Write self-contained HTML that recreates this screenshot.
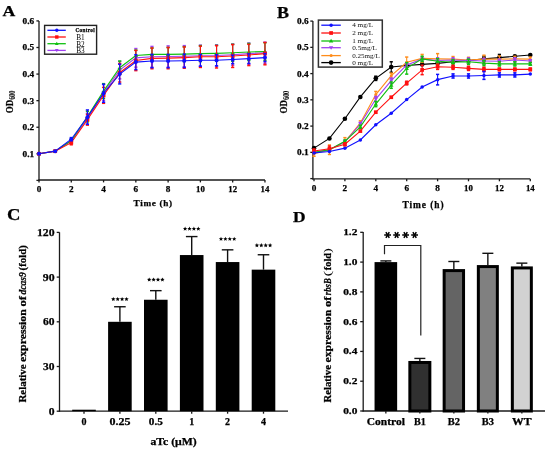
<!DOCTYPE html>
<html><head><meta charset="utf-8"><style>
html,body{margin:0;padding:0;background:#fff;}
svg{display:block;filter:blur(0.3px);}
text{font-family:"Liberation Serif", serif;stroke:#000;stroke-width:0.25px;}
text[font-weight="normal"]{stroke:none;}
</style></head><body>
<svg width="550" height="450" viewBox="0 0 550 450">
<rect width="550" height="450" fill="#fff"/>
<text x="2.60" y="15.60" font-size="15.5" font-weight="bold" font-style="normal" text-anchor="start" fill="#000" textLength="12.80" lengthAdjust="spacingAndGlyphs" >A</text>
<text x="277.00" y="17.80" font-size="15.8" font-weight="bold" font-style="normal" text-anchor="start" fill="#000" textLength="12.00" lengthAdjust="spacingAndGlyphs" >B</text>
<text x="7.00" y="219.60" font-size="16.5" font-weight="bold" font-style="normal" text-anchor="start" fill="#000" textLength="13.40" lengthAdjust="spacingAndGlyphs" >C</text>
<text x="293.00" y="222.00" font-size="14.6" font-weight="bold" font-style="normal" text-anchor="start" fill="#000" textLength="12.60" lengthAdjust="spacingAndGlyphs" >D</text>
<line x1="39.00" y1="20.92" x2="39.00" y2="180.60" stroke="#1a1a1a" stroke-width="1.3" />
<line x1="38.40" y1="180.00" x2="264.96" y2="180.00" stroke="#1a1a1a" stroke-width="1.3" />
<line x1="36.40" y1="180.40" x2="39.00" y2="180.40" stroke="#1a1a1a" stroke-width="1.3" />
<line x1="36.40" y1="153.82" x2="39.00" y2="153.82" stroke="#1a1a1a" stroke-width="1.3" />
<text x="34.20" y="156.72" font-size="8.5" font-weight="bold" font-style="normal" text-anchor="end" fill="#000" textLength="11.60" lengthAdjust="spacingAndGlyphs" >0.1</text>
<line x1="36.40" y1="127.24" x2="39.00" y2="127.24" stroke="#1a1a1a" stroke-width="1.3" />
<text x="34.20" y="130.14" font-size="8.5" font-weight="bold" font-style="normal" text-anchor="end" fill="#000" textLength="11.60" lengthAdjust="spacingAndGlyphs" >0.2</text>
<line x1="36.40" y1="100.66" x2="39.00" y2="100.66" stroke="#1a1a1a" stroke-width="1.3" />
<text x="34.20" y="103.56" font-size="8.5" font-weight="bold" font-style="normal" text-anchor="end" fill="#000" textLength="11.60" lengthAdjust="spacingAndGlyphs" >0.3</text>
<line x1="36.40" y1="74.08" x2="39.00" y2="74.08" stroke="#1a1a1a" stroke-width="1.3" />
<text x="34.20" y="76.98" font-size="8.5" font-weight="bold" font-style="normal" text-anchor="end" fill="#000" textLength="11.60" lengthAdjust="spacingAndGlyphs" >0.4</text>
<line x1="36.40" y1="47.50" x2="39.00" y2="47.50" stroke="#1a1a1a" stroke-width="1.3" />
<text x="34.20" y="50.40" font-size="8.5" font-weight="bold" font-style="normal" text-anchor="end" fill="#000" textLength="11.60" lengthAdjust="spacingAndGlyphs" >0.5</text>
<line x1="36.40" y1="20.92" x2="39.00" y2="20.92" stroke="#1a1a1a" stroke-width="1.3" />
<text x="34.20" y="23.82" font-size="8.5" font-weight="bold" font-style="normal" text-anchor="end" fill="#000" textLength="11.60" lengthAdjust="spacingAndGlyphs" >0.6</text>
<line x1="39.00" y1="180.00" x2="39.00" y2="182.40" stroke="#1a1a1a" stroke-width="1.3" />
<text x="39.00" y="191.80" font-size="8.5" font-weight="bold" font-style="normal" text-anchor="middle" fill="#000" textLength="4.60" lengthAdjust="spacingAndGlyphs" >0</text>
<line x1="71.28" y1="180.00" x2="71.28" y2="182.40" stroke="#1a1a1a" stroke-width="1.3" />
<text x="71.28" y="191.80" font-size="8.5" font-weight="bold" font-style="normal" text-anchor="middle" fill="#000" textLength="4.60" lengthAdjust="spacingAndGlyphs" >2</text>
<line x1="103.56" y1="180.00" x2="103.56" y2="182.40" stroke="#1a1a1a" stroke-width="1.3" />
<text x="103.56" y="191.80" font-size="8.5" font-weight="bold" font-style="normal" text-anchor="middle" fill="#000" textLength="4.60" lengthAdjust="spacingAndGlyphs" >4</text>
<line x1="135.84" y1="180.00" x2="135.84" y2="182.40" stroke="#1a1a1a" stroke-width="1.3" />
<text x="135.84" y="191.80" font-size="8.5" font-weight="bold" font-style="normal" text-anchor="middle" fill="#000" textLength="4.60" lengthAdjust="spacingAndGlyphs" >6</text>
<line x1="168.12" y1="180.00" x2="168.12" y2="182.40" stroke="#1a1a1a" stroke-width="1.3" />
<text x="168.12" y="191.80" font-size="8.5" font-weight="bold" font-style="normal" text-anchor="middle" fill="#000" textLength="4.60" lengthAdjust="spacingAndGlyphs" >8</text>
<line x1="200.40" y1="180.00" x2="200.40" y2="182.40" stroke="#1a1a1a" stroke-width="1.3" />
<text x="200.40" y="191.80" font-size="8.5" font-weight="bold" font-style="normal" text-anchor="middle" fill="#000" textLength="8.80" lengthAdjust="spacingAndGlyphs" >10</text>
<line x1="232.68" y1="180.00" x2="232.68" y2="182.40" stroke="#1a1a1a" stroke-width="1.3" />
<text x="232.68" y="191.80" font-size="8.5" font-weight="bold" font-style="normal" text-anchor="middle" fill="#000" textLength="8.80" lengthAdjust="spacingAndGlyphs" >12</text>
<line x1="264.96" y1="180.00" x2="264.96" y2="182.40" stroke="#1a1a1a" stroke-width="1.3" />
<text x="264.96" y="191.80" font-size="8.5" font-weight="bold" font-style="normal" text-anchor="middle" fill="#000" textLength="8.80" lengthAdjust="spacingAndGlyphs" >14</text>
<polyline points="39.00,153.82 55.14,151.16 71.28,141.06 87.42,118.73 103.56,92.69 119.70,70.09 135.84,57.87 151.98,56.80 168.12,56.54 184.26,56.27 200.40,55.74 216.54,55.47 232.68,54.68 248.82,53.61 264.96,52.82" fill="none" stroke="#a040f0" stroke-width="1.1"/>
<line x1="71.28" y1="139.73" x2="71.28" y2="142.39" stroke="#a040f0" stroke-width="1.1" />
<line x1="69.68" y1="139.73" x2="72.88" y2="139.73" stroke="#a040f0" stroke-width="1.5" />
<line x1="69.68" y1="142.39" x2="72.88" y2="142.39" stroke="#a040f0" stroke-width="1.5" />
<line x1="87.42" y1="113.42" x2="87.42" y2="124.05" stroke="#a040f0" stroke-width="1.1" />
<line x1="85.82" y1="113.42" x2="89.02" y2="113.42" stroke="#a040f0" stroke-width="1.5" />
<line x1="85.82" y1="124.05" x2="89.02" y2="124.05" stroke="#a040f0" stroke-width="1.5" />
<line x1="103.56" y1="84.71" x2="103.56" y2="100.66" stroke="#a040f0" stroke-width="1.1" />
<line x1="101.96" y1="84.71" x2="105.16" y2="84.71" stroke="#a040f0" stroke-width="1.5" />
<line x1="101.96" y1="100.66" x2="105.16" y2="100.66" stroke="#a040f0" stroke-width="1.5" />
<line x1="119.70" y1="61.32" x2="119.70" y2="78.86" stroke="#a040f0" stroke-width="1.1" />
<line x1="118.10" y1="61.32" x2="121.30" y2="61.32" stroke="#a040f0" stroke-width="1.5" />
<line x1="118.10" y1="78.86" x2="121.30" y2="78.86" stroke="#a040f0" stroke-width="1.5" />
<line x1="135.84" y1="48.56" x2="135.84" y2="67.17" stroke="#a040f0" stroke-width="1.1" />
<line x1="134.24" y1="48.56" x2="137.44" y2="48.56" stroke="#a040f0" stroke-width="1.5" />
<line x1="134.24" y1="67.17" x2="137.44" y2="67.17" stroke="#a040f0" stroke-width="1.5" />
<line x1="151.98" y1="46.44" x2="151.98" y2="67.17" stroke="#a040f0" stroke-width="1.1" />
<line x1="150.38" y1="46.44" x2="153.58" y2="46.44" stroke="#a040f0" stroke-width="1.5" />
<line x1="150.38" y1="67.17" x2="153.58" y2="67.17" stroke="#a040f0" stroke-width="1.5" />
<line x1="168.12" y1="45.91" x2="168.12" y2="67.17" stroke="#a040f0" stroke-width="1.1" />
<line x1="166.52" y1="45.91" x2="169.72" y2="45.91" stroke="#a040f0" stroke-width="1.5" />
<line x1="166.52" y1="67.17" x2="169.72" y2="67.17" stroke="#a040f0" stroke-width="1.5" />
<line x1="184.26" y1="45.64" x2="184.26" y2="66.90" stroke="#a040f0" stroke-width="1.1" />
<line x1="182.66" y1="45.64" x2="185.86" y2="45.64" stroke="#a040f0" stroke-width="1.5" />
<line x1="182.66" y1="66.90" x2="185.86" y2="66.90" stroke="#a040f0" stroke-width="1.5" />
<line x1="200.40" y1="45.11" x2="200.40" y2="66.37" stroke="#a040f0" stroke-width="1.1" />
<line x1="198.80" y1="45.11" x2="202.00" y2="45.11" stroke="#a040f0" stroke-width="1.5" />
<line x1="198.80" y1="66.37" x2="202.00" y2="66.37" stroke="#a040f0" stroke-width="1.5" />
<line x1="216.54" y1="44.84" x2="216.54" y2="66.11" stroke="#a040f0" stroke-width="1.1" />
<line x1="214.94" y1="44.84" x2="218.14" y2="44.84" stroke="#a040f0" stroke-width="1.5" />
<line x1="214.94" y1="66.11" x2="218.14" y2="66.11" stroke="#a040f0" stroke-width="1.5" />
<line x1="232.68" y1="44.04" x2="232.68" y2="65.31" stroke="#a040f0" stroke-width="1.1" />
<line x1="231.08" y1="44.04" x2="234.28" y2="44.04" stroke="#a040f0" stroke-width="1.5" />
<line x1="231.08" y1="65.31" x2="234.28" y2="65.31" stroke="#a040f0" stroke-width="1.5" />
<line x1="248.82" y1="42.98" x2="248.82" y2="64.25" stroke="#a040f0" stroke-width="1.1" />
<line x1="247.22" y1="42.98" x2="250.42" y2="42.98" stroke="#a040f0" stroke-width="1.5" />
<line x1="247.22" y1="64.25" x2="250.42" y2="64.25" stroke="#a040f0" stroke-width="1.5" />
<line x1="264.96" y1="42.18" x2="264.96" y2="63.45" stroke="#a040f0" stroke-width="1.1" />
<line x1="263.36" y1="42.18" x2="266.56" y2="42.18" stroke="#a040f0" stroke-width="1.5" />
<line x1="263.36" y1="63.45" x2="266.56" y2="63.45" stroke="#a040f0" stroke-width="1.5" />
<polygon points="39.00,155.91 41.09,152.30 36.91,152.30" fill="#a040f0"/>
<polygon points="55.14,153.25 57.23,149.64 53.05,149.64" fill="#a040f0"/>
<polygon points="71.28,143.15 73.37,139.54 69.19,139.54" fill="#a040f0"/>
<polygon points="87.42,120.82 89.51,117.21 85.33,117.21" fill="#a040f0"/>
<polygon points="103.56,94.78 105.65,91.17 101.47,91.17" fill="#a040f0"/>
<polygon points="119.70,72.18 121.79,68.57 117.61,68.57" fill="#a040f0"/>
<polygon points="135.84,59.96 137.93,56.35 133.75,56.35" fill="#a040f0"/>
<polygon points="151.98,58.89 154.07,55.28 149.89,55.28" fill="#a040f0"/>
<polygon points="168.12,58.63 170.21,55.02 166.03,55.02" fill="#a040f0"/>
<polygon points="184.26,58.36 186.35,54.75 182.17,54.75" fill="#a040f0"/>
<polygon points="200.40,57.83 202.49,54.22 198.31,54.22" fill="#a040f0"/>
<polygon points="216.54,57.56 218.63,53.95 214.45,53.95" fill="#a040f0"/>
<polygon points="232.68,56.77 234.77,53.16 230.59,53.16" fill="#a040f0"/>
<polygon points="248.82,55.70 250.91,52.09 246.73,52.09" fill="#a040f0"/>
<polygon points="264.96,54.91 267.05,51.30 262.87,51.30" fill="#a040f0"/>
<polyline points="39.00,153.82 55.14,151.16 71.28,140.53 87.42,116.61 103.56,91.09 119.70,67.70 135.84,55.47 151.98,54.41 168.12,54.41 184.26,54.15 200.40,53.61 216.54,53.35 232.68,52.82 248.82,52.02 264.96,51.49" fill="none" stroke="#10c010" stroke-width="1.1"/>
<line x1="71.28" y1="139.20" x2="71.28" y2="141.86" stroke="#10c010" stroke-width="1.1" />
<line x1="69.68" y1="139.20" x2="72.88" y2="139.20" stroke="#10c010" stroke-width="1.5" />
<line x1="69.68" y1="141.86" x2="72.88" y2="141.86" stroke="#10c010" stroke-width="1.5" />
<line x1="87.42" y1="111.29" x2="87.42" y2="121.92" stroke="#10c010" stroke-width="1.1" />
<line x1="85.82" y1="111.29" x2="89.02" y2="111.29" stroke="#10c010" stroke-width="1.5" />
<line x1="85.82" y1="121.92" x2="89.02" y2="121.92" stroke="#10c010" stroke-width="1.5" />
<line x1="103.56" y1="83.65" x2="103.56" y2="98.53" stroke="#10c010" stroke-width="1.1" />
<line x1="101.96" y1="83.65" x2="105.16" y2="83.65" stroke="#10c010" stroke-width="1.5" />
<line x1="101.96" y1="98.53" x2="105.16" y2="98.53" stroke="#10c010" stroke-width="1.5" />
<line x1="119.70" y1="61.06" x2="119.70" y2="74.35" stroke="#10c010" stroke-width="1.1" />
<line x1="118.10" y1="61.06" x2="121.30" y2="61.06" stroke="#10c010" stroke-width="1.5" />
<line x1="118.10" y1="74.35" x2="121.30" y2="74.35" stroke="#10c010" stroke-width="1.5" />
<line x1="135.84" y1="50.16" x2="135.84" y2="60.79" stroke="#10c010" stroke-width="1.1" />
<line x1="134.24" y1="50.16" x2="137.44" y2="50.16" stroke="#10c010" stroke-width="1.5" />
<line x1="134.24" y1="60.79" x2="137.44" y2="60.79" stroke="#10c010" stroke-width="1.5" />
<line x1="151.98" y1="48.03" x2="151.98" y2="60.79" stroke="#10c010" stroke-width="1.1" />
<line x1="150.38" y1="48.03" x2="153.58" y2="48.03" stroke="#10c010" stroke-width="1.5" />
<line x1="150.38" y1="60.79" x2="153.58" y2="60.79" stroke="#10c010" stroke-width="1.5" />
<line x1="168.12" y1="47.50" x2="168.12" y2="61.32" stroke="#10c010" stroke-width="1.1" />
<line x1="166.52" y1="47.50" x2="169.72" y2="47.50" stroke="#10c010" stroke-width="1.5" />
<line x1="166.52" y1="61.32" x2="169.72" y2="61.32" stroke="#10c010" stroke-width="1.5" />
<line x1="184.26" y1="46.70" x2="184.26" y2="61.59" stroke="#10c010" stroke-width="1.1" />
<line x1="182.66" y1="46.70" x2="185.86" y2="46.70" stroke="#10c010" stroke-width="1.5" />
<line x1="182.66" y1="61.59" x2="185.86" y2="61.59" stroke="#10c010" stroke-width="1.5" />
<line x1="200.40" y1="45.64" x2="200.40" y2="61.59" stroke="#10c010" stroke-width="1.1" />
<line x1="198.80" y1="45.64" x2="202.00" y2="45.64" stroke="#10c010" stroke-width="1.5" />
<line x1="198.80" y1="61.59" x2="202.00" y2="61.59" stroke="#10c010" stroke-width="1.5" />
<line x1="216.54" y1="45.37" x2="216.54" y2="61.32" stroke="#10c010" stroke-width="1.1" />
<line x1="214.94" y1="45.37" x2="218.14" y2="45.37" stroke="#10c010" stroke-width="1.5" />
<line x1="214.94" y1="61.32" x2="218.14" y2="61.32" stroke="#10c010" stroke-width="1.5" />
<line x1="232.68" y1="44.31" x2="232.68" y2="61.32" stroke="#10c010" stroke-width="1.1" />
<line x1="231.08" y1="44.31" x2="234.28" y2="44.31" stroke="#10c010" stroke-width="1.5" />
<line x1="231.08" y1="61.32" x2="234.28" y2="61.32" stroke="#10c010" stroke-width="1.5" />
<line x1="248.82" y1="43.51" x2="248.82" y2="60.52" stroke="#10c010" stroke-width="1.1" />
<line x1="247.22" y1="43.51" x2="250.42" y2="43.51" stroke="#10c010" stroke-width="1.5" />
<line x1="247.22" y1="60.52" x2="250.42" y2="60.52" stroke="#10c010" stroke-width="1.5" />
<line x1="264.96" y1="42.72" x2="264.96" y2="60.26" stroke="#10c010" stroke-width="1.1" />
<line x1="263.36" y1="42.72" x2="266.56" y2="42.72" stroke="#10c010" stroke-width="1.5" />
<line x1="263.36" y1="60.26" x2="266.56" y2="60.26" stroke="#10c010" stroke-width="1.5" />
<polygon points="39.00,151.73 41.09,155.34 36.91,155.34" fill="#10c010"/>
<polygon points="55.14,149.07 57.23,152.68 53.05,152.68" fill="#10c010"/>
<polygon points="71.28,138.44 73.37,142.05 69.19,142.05" fill="#10c010"/>
<polygon points="87.42,114.52 89.51,118.13 85.33,118.13" fill="#10c010"/>
<polygon points="103.56,89.00 105.65,92.61 101.47,92.61" fill="#10c010"/>
<polygon points="119.70,65.61 121.79,69.22 117.61,69.22" fill="#10c010"/>
<polygon points="135.84,53.38 137.93,56.99 133.75,56.99" fill="#10c010"/>
<polygon points="151.98,52.32 154.07,55.93 149.89,55.93" fill="#10c010"/>
<polygon points="168.12,52.32 170.21,55.93 166.03,55.93" fill="#10c010"/>
<polygon points="184.26,52.06 186.35,55.67 182.17,55.67" fill="#10c010"/>
<polygon points="200.40,51.52 202.49,55.13 198.31,55.13" fill="#10c010"/>
<polygon points="216.54,51.26 218.63,54.87 214.45,54.87" fill="#10c010"/>
<polygon points="232.68,50.73 234.77,54.34 230.59,54.34" fill="#10c010"/>
<polygon points="248.82,49.93 250.91,53.54 246.73,53.54" fill="#10c010"/>
<polygon points="264.96,49.40 267.05,53.01 262.87,53.01" fill="#10c010"/>
<polyline points="39.00,153.82 55.14,151.16 71.28,142.66 87.42,119.80 103.56,95.34 119.70,72.75 135.84,60.52 151.98,58.40 168.12,58.13 184.26,57.60 200.40,56.80 216.54,56.80 232.68,56.01 248.82,54.94 264.96,53.61" fill="none" stroke="#ff1010" stroke-width="1.1"/>
<line x1="71.28" y1="140.53" x2="71.28" y2="144.78" stroke="#ff1010" stroke-width="1.1" />
<line x1="69.68" y1="140.53" x2="72.88" y2="140.53" stroke="#ff1010" stroke-width="1.5" />
<line x1="69.68" y1="144.78" x2="72.88" y2="144.78" stroke="#ff1010" stroke-width="1.5" />
<line x1="87.42" y1="114.48" x2="87.42" y2="125.11" stroke="#ff1010" stroke-width="1.1" />
<line x1="85.82" y1="114.48" x2="89.02" y2="114.48" stroke="#ff1010" stroke-width="1.5" />
<line x1="85.82" y1="125.11" x2="89.02" y2="125.11" stroke="#ff1010" stroke-width="1.5" />
<line x1="103.56" y1="87.37" x2="103.56" y2="103.32" stroke="#ff1010" stroke-width="1.1" />
<line x1="101.96" y1="87.37" x2="105.16" y2="87.37" stroke="#ff1010" stroke-width="1.5" />
<line x1="101.96" y1="103.32" x2="105.16" y2="103.32" stroke="#ff1010" stroke-width="1.5" />
<line x1="119.70" y1="63.45" x2="119.70" y2="82.05" stroke="#ff1010" stroke-width="1.1" />
<line x1="118.10" y1="63.45" x2="121.30" y2="63.45" stroke="#ff1010" stroke-width="1.5" />
<line x1="118.10" y1="82.05" x2="121.30" y2="82.05" stroke="#ff1010" stroke-width="1.5" />
<line x1="135.84" y1="50.42" x2="135.84" y2="70.62" stroke="#ff1010" stroke-width="1.1" />
<line x1="134.24" y1="50.42" x2="137.44" y2="50.42" stroke="#ff1010" stroke-width="1.5" />
<line x1="134.24" y1="70.62" x2="137.44" y2="70.62" stroke="#ff1010" stroke-width="1.5" />
<line x1="151.98" y1="48.03" x2="151.98" y2="68.76" stroke="#ff1010" stroke-width="1.1" />
<line x1="150.38" y1="48.03" x2="153.58" y2="48.03" stroke="#ff1010" stroke-width="1.5" />
<line x1="150.38" y1="68.76" x2="153.58" y2="68.76" stroke="#ff1010" stroke-width="1.5" />
<line x1="168.12" y1="47.50" x2="168.12" y2="68.76" stroke="#ff1010" stroke-width="1.1" />
<line x1="166.52" y1="47.50" x2="169.72" y2="47.50" stroke="#ff1010" stroke-width="1.5" />
<line x1="166.52" y1="68.76" x2="169.72" y2="68.76" stroke="#ff1010" stroke-width="1.5" />
<line x1="184.26" y1="46.97" x2="184.26" y2="68.23" stroke="#ff1010" stroke-width="1.1" />
<line x1="182.66" y1="46.97" x2="185.86" y2="46.97" stroke="#ff1010" stroke-width="1.5" />
<line x1="182.66" y1="68.23" x2="185.86" y2="68.23" stroke="#ff1010" stroke-width="1.5" />
<line x1="200.40" y1="46.17" x2="200.40" y2="67.43" stroke="#ff1010" stroke-width="1.1" />
<line x1="198.80" y1="46.17" x2="202.00" y2="46.17" stroke="#ff1010" stroke-width="1.5" />
<line x1="198.80" y1="67.43" x2="202.00" y2="67.43" stroke="#ff1010" stroke-width="1.5" />
<line x1="216.54" y1="45.64" x2="216.54" y2="67.97" stroke="#ff1010" stroke-width="1.1" />
<line x1="214.94" y1="45.64" x2="218.14" y2="45.64" stroke="#ff1010" stroke-width="1.5" />
<line x1="214.94" y1="67.97" x2="218.14" y2="67.97" stroke="#ff1010" stroke-width="1.5" />
<line x1="232.68" y1="44.58" x2="232.68" y2="67.43" stroke="#ff1010" stroke-width="1.1" />
<line x1="231.08" y1="44.58" x2="234.28" y2="44.58" stroke="#ff1010" stroke-width="1.5" />
<line x1="231.08" y1="67.43" x2="234.28" y2="67.43" stroke="#ff1010" stroke-width="1.5" />
<line x1="248.82" y1="44.31" x2="248.82" y2="65.57" stroke="#ff1010" stroke-width="1.1" />
<line x1="247.22" y1="44.31" x2="250.42" y2="44.31" stroke="#ff1010" stroke-width="1.5" />
<line x1="247.22" y1="65.57" x2="250.42" y2="65.57" stroke="#ff1010" stroke-width="1.5" />
<line x1="264.96" y1="42.45" x2="264.96" y2="64.78" stroke="#ff1010" stroke-width="1.1" />
<line x1="263.36" y1="42.45" x2="266.56" y2="42.45" stroke="#ff1010" stroke-width="1.5" />
<line x1="263.36" y1="64.78" x2="266.56" y2="64.78" stroke="#ff1010" stroke-width="1.5" />
<rect x="37.10" y="151.92" width="3.80" height="3.80" fill="#ff1010"/>
<rect x="53.24" y="149.26" width="3.80" height="3.80" fill="#ff1010"/>
<rect x="69.38" y="140.76" width="3.80" height="3.80" fill="#ff1010"/>
<rect x="85.52" y="117.90" width="3.80" height="3.80" fill="#ff1010"/>
<rect x="101.66" y="93.44" width="3.80" height="3.80" fill="#ff1010"/>
<rect x="117.80" y="70.85" width="3.80" height="3.80" fill="#ff1010"/>
<rect x="133.94" y="58.62" width="3.80" height="3.80" fill="#ff1010"/>
<rect x="150.08" y="56.50" width="3.80" height="3.80" fill="#ff1010"/>
<rect x="166.22" y="56.23" width="3.80" height="3.80" fill="#ff1010"/>
<rect x="182.36" y="55.70" width="3.80" height="3.80" fill="#ff1010"/>
<rect x="198.50" y="54.90" width="3.80" height="3.80" fill="#ff1010"/>
<rect x="214.64" y="54.90" width="3.80" height="3.80" fill="#ff1010"/>
<rect x="230.78" y="54.11" width="3.80" height="3.80" fill="#ff1010"/>
<rect x="246.92" y="53.04" width="3.80" height="3.80" fill="#ff1010"/>
<rect x="263.06" y="51.71" width="3.80" height="3.80" fill="#ff1010"/>
<polyline points="39.00,153.82 55.14,151.16 71.28,139.20 87.42,117.14 103.56,93.22 119.70,74.08 135.84,62.12 151.98,61.06 168.12,61.06 184.26,60.79 200.40,60.26 216.54,60.26 232.68,59.46 248.82,58.66 264.96,57.60" fill="none" stroke="#1010ff" stroke-width="1.1"/>
<line x1="71.28" y1="137.61" x2="71.28" y2="140.80" stroke="#1010ff" stroke-width="1.1" />
<line x1="69.68" y1="137.61" x2="72.88" y2="137.61" stroke="#1010ff" stroke-width="1.5" />
<line x1="69.68" y1="140.80" x2="72.88" y2="140.80" stroke="#1010ff" stroke-width="1.5" />
<line x1="87.42" y1="109.96" x2="87.42" y2="124.32" stroke="#1010ff" stroke-width="1.1" />
<line x1="85.82" y1="109.96" x2="89.02" y2="109.96" stroke="#1010ff" stroke-width="1.5" />
<line x1="85.82" y1="124.32" x2="89.02" y2="124.32" stroke="#1010ff" stroke-width="1.5" />
<line x1="103.56" y1="84.18" x2="103.56" y2="102.25" stroke="#1010ff" stroke-width="1.1" />
<line x1="101.96" y1="84.18" x2="105.16" y2="84.18" stroke="#1010ff" stroke-width="1.5" />
<line x1="101.96" y1="102.25" x2="105.16" y2="102.25" stroke="#1010ff" stroke-width="1.5" />
<line x1="119.70" y1="64.25" x2="119.70" y2="83.91" stroke="#1010ff" stroke-width="1.1" />
<line x1="118.10" y1="64.25" x2="121.30" y2="64.25" stroke="#1010ff" stroke-width="1.5" />
<line x1="118.10" y1="83.91" x2="121.30" y2="83.91" stroke="#1010ff" stroke-width="1.5" />
<line x1="135.84" y1="54.68" x2="135.84" y2="69.56" stroke="#1010ff" stroke-width="1.1" />
<line x1="134.24" y1="54.68" x2="137.44" y2="54.68" stroke="#1010ff" stroke-width="1.5" />
<line x1="134.24" y1="69.56" x2="137.44" y2="69.56" stroke="#1010ff" stroke-width="1.5" />
<line x1="151.98" y1="54.41" x2="151.98" y2="67.70" stroke="#1010ff" stroke-width="1.1" />
<line x1="150.38" y1="54.41" x2="153.58" y2="54.41" stroke="#1010ff" stroke-width="1.5" />
<line x1="150.38" y1="67.70" x2="153.58" y2="67.70" stroke="#1010ff" stroke-width="1.5" />
<line x1="168.12" y1="54.41" x2="168.12" y2="67.70" stroke="#1010ff" stroke-width="1.1" />
<line x1="166.52" y1="54.41" x2="169.72" y2="54.41" stroke="#1010ff" stroke-width="1.5" />
<line x1="166.52" y1="67.70" x2="169.72" y2="67.70" stroke="#1010ff" stroke-width="1.5" />
<line x1="184.26" y1="54.14" x2="184.26" y2="67.44" stroke="#1010ff" stroke-width="1.1" />
<line x1="182.66" y1="54.14" x2="185.86" y2="54.14" stroke="#1010ff" stroke-width="1.5" />
<line x1="182.66" y1="67.44" x2="185.86" y2="67.44" stroke="#1010ff" stroke-width="1.5" />
<line x1="200.40" y1="54.41" x2="200.40" y2="66.11" stroke="#1010ff" stroke-width="1.1" />
<line x1="198.80" y1="54.41" x2="202.00" y2="54.41" stroke="#1010ff" stroke-width="1.5" />
<line x1="198.80" y1="66.11" x2="202.00" y2="66.11" stroke="#1010ff" stroke-width="1.5" />
<line x1="216.54" y1="54.68" x2="216.54" y2="65.84" stroke="#1010ff" stroke-width="1.1" />
<line x1="214.94" y1="54.68" x2="218.14" y2="54.68" stroke="#1010ff" stroke-width="1.5" />
<line x1="214.94" y1="65.84" x2="218.14" y2="65.84" stroke="#1010ff" stroke-width="1.5" />
<line x1="232.68" y1="55.21" x2="232.68" y2="63.71" stroke="#1010ff" stroke-width="1.1" />
<line x1="231.08" y1="55.21" x2="234.28" y2="55.21" stroke="#1010ff" stroke-width="1.5" />
<line x1="231.08" y1="63.71" x2="234.28" y2="63.71" stroke="#1010ff" stroke-width="1.5" />
<line x1="248.82" y1="53.88" x2="248.82" y2="63.45" stroke="#1010ff" stroke-width="1.1" />
<line x1="247.22" y1="53.88" x2="250.42" y2="53.88" stroke="#1010ff" stroke-width="1.5" />
<line x1="247.22" y1="63.45" x2="250.42" y2="63.45" stroke="#1010ff" stroke-width="1.5" />
<line x1="264.96" y1="53.61" x2="264.96" y2="61.59" stroke="#1010ff" stroke-width="1.1" />
<line x1="263.36" y1="53.61" x2="266.56" y2="53.61" stroke="#1010ff" stroke-width="1.5" />
<line x1="263.36" y1="61.59" x2="266.56" y2="61.59" stroke="#1010ff" stroke-width="1.5" />
<circle cx="39.00" cy="153.82" r="2.00" fill="#1010ff"/>
<circle cx="55.14" cy="151.16" r="2.00" fill="#1010ff"/>
<circle cx="71.28" cy="139.20" r="2.00" fill="#1010ff"/>
<circle cx="87.42" cy="117.14" r="2.00" fill="#1010ff"/>
<circle cx="103.56" cy="93.22" r="2.00" fill="#1010ff"/>
<circle cx="119.70" cy="74.08" r="2.00" fill="#1010ff"/>
<circle cx="135.84" cy="62.12" r="2.00" fill="#1010ff"/>
<circle cx="151.98" cy="61.06" r="2.00" fill="#1010ff"/>
<circle cx="168.12" cy="61.06" r="2.00" fill="#1010ff"/>
<circle cx="184.26" cy="60.79" r="2.00" fill="#1010ff"/>
<circle cx="200.40" cy="60.26" r="2.00" fill="#1010ff"/>
<circle cx="216.54" cy="60.26" r="2.00" fill="#1010ff"/>
<circle cx="232.68" cy="59.46" r="2.00" fill="#1010ff"/>
<circle cx="248.82" cy="58.66" r="2.00" fill="#1010ff"/>
<circle cx="264.96" cy="57.60" r="2.00" fill="#1010ff"/>
<rect x="44.6" y="25.4" width="52.0" height="28.8" fill="#fff" stroke="#222" stroke-width="1.4"/>
<line x1="47.40" y1="30.30" x2="65.80" y2="30.30" stroke="#1010ff" stroke-width="1.3" />
<circle cx="56.80" cy="30.30" r="1.70" fill="#1010ff"/>
<line x1="47.40" y1="37.00" x2="65.80" y2="37.00" stroke="#ff1010" stroke-width="1.3" />
<rect x="55.10" y="35.30" width="3.40" height="3.40" fill="#ff1010"/>
<line x1="47.40" y1="43.70" x2="65.80" y2="43.70" stroke="#10c010" stroke-width="1.3" />
<polygon points="56.80,41.83 58.67,45.06 54.93,45.06" fill="#10c010"/>
<line x1="47.40" y1="50.40" x2="65.80" y2="50.40" stroke="#a040f0" stroke-width="1.3" />
<polygon points="56.80,52.27 58.67,49.04 54.93,49.04" fill="#a040f0"/>
<text x="75.40" y="32.20" font-size="5.2" font-weight="bold" font-style="normal" text-anchor="start" fill="#000" textLength="19.30" lengthAdjust="spacing" >Control</text>
<text x="76.20" y="39.80" font-size="7.3" font-weight="normal" font-style="normal" text-anchor="start" fill="#000" >B1</text>
<text x="76.20" y="46.70" font-size="7.3" font-weight="normal" font-style="normal" text-anchor="start" fill="#000" >B2</text>
<text x="76.20" y="53.00" font-size="7.3" font-weight="normal" font-style="normal" text-anchor="start" fill="#000" >B3</text>
<text x="133.60" y="206.00" font-size="9.2" font-weight="bold" font-style="normal" text-anchor="start" fill="#000" textLength="38.40" lengthAdjust="spacing" >Time (h)</text>
<g transform="translate(13.0,113.3) rotate(-90)"><text x="0.00" y="0.00" font-size="10" font-weight="bold" font-style="normal" text-anchor="start" fill="#000" textLength="13.40" lengthAdjust="spacingAndGlyphs" >OD</text><text x="13.50" y="2.10" font-size="7.2" font-weight="bold" font-style="normal" text-anchor="start" fill="#000" textLength="9.30" lengthAdjust="spacing" style="stroke:none">600</text></g>
<line x1="312.90" y1="21.10" x2="312.90" y2="179.50" stroke="#1a1a1a" stroke-width="1.3" />
<line x1="312.30" y1="178.90" x2="530.30" y2="178.90" stroke="#1a1a1a" stroke-width="1.3" />
<line x1="310.30" y1="178.60" x2="312.90" y2="178.60" stroke="#1a1a1a" stroke-width="1.3" />
<line x1="310.30" y1="152.35" x2="312.90" y2="152.35" stroke="#1a1a1a" stroke-width="1.3" />
<text x="308.60" y="155.25" font-size="8.5" font-weight="bold" font-style="normal" text-anchor="end" fill="#000" textLength="11.60" lengthAdjust="spacingAndGlyphs" >0.1</text>
<line x1="310.30" y1="126.10" x2="312.90" y2="126.10" stroke="#1a1a1a" stroke-width="1.3" />
<text x="308.60" y="129.00" font-size="8.5" font-weight="bold" font-style="normal" text-anchor="end" fill="#000" textLength="11.60" lengthAdjust="spacingAndGlyphs" >0.2</text>
<line x1="310.30" y1="99.85" x2="312.90" y2="99.85" stroke="#1a1a1a" stroke-width="1.3" />
<text x="308.60" y="102.75" font-size="8.5" font-weight="bold" font-style="normal" text-anchor="end" fill="#000" textLength="11.60" lengthAdjust="spacingAndGlyphs" >0.3</text>
<line x1="310.30" y1="73.60" x2="312.90" y2="73.60" stroke="#1a1a1a" stroke-width="1.3" />
<text x="308.60" y="76.50" font-size="8.5" font-weight="bold" font-style="normal" text-anchor="end" fill="#000" textLength="11.60" lengthAdjust="spacingAndGlyphs" >0.4</text>
<line x1="310.30" y1="47.35" x2="312.90" y2="47.35" stroke="#1a1a1a" stroke-width="1.3" />
<text x="308.60" y="50.25" font-size="8.5" font-weight="bold" font-style="normal" text-anchor="end" fill="#000" textLength="11.60" lengthAdjust="spacingAndGlyphs" >0.5</text>
<line x1="310.30" y1="21.10" x2="312.90" y2="21.10" stroke="#1a1a1a" stroke-width="1.3" />
<text x="308.60" y="24.00" font-size="8.5" font-weight="bold" font-style="normal" text-anchor="end" fill="#000" textLength="11.60" lengthAdjust="spacingAndGlyphs" >0.6</text>
<line x1="314.00" y1="178.90" x2="314.00" y2="181.30" stroke="#1a1a1a" stroke-width="1.3" />
<text x="314.00" y="190.70" font-size="8.5" font-weight="bold" font-style="normal" text-anchor="middle" fill="#000" textLength="4.60" lengthAdjust="spacingAndGlyphs" >0</text>
<line x1="344.90" y1="178.90" x2="344.90" y2="181.30" stroke="#1a1a1a" stroke-width="1.3" />
<text x="344.90" y="190.70" font-size="8.5" font-weight="bold" font-style="normal" text-anchor="middle" fill="#000" textLength="4.60" lengthAdjust="spacingAndGlyphs" >2</text>
<line x1="375.80" y1="178.90" x2="375.80" y2="181.30" stroke="#1a1a1a" stroke-width="1.3" />
<text x="375.80" y="190.70" font-size="8.5" font-weight="bold" font-style="normal" text-anchor="middle" fill="#000" textLength="4.60" lengthAdjust="spacingAndGlyphs" >4</text>
<line x1="406.70" y1="178.90" x2="406.70" y2="181.30" stroke="#1a1a1a" stroke-width="1.3" />
<text x="406.70" y="190.70" font-size="8.5" font-weight="bold" font-style="normal" text-anchor="middle" fill="#000" textLength="4.60" lengthAdjust="spacingAndGlyphs" >6</text>
<line x1="437.60" y1="178.90" x2="437.60" y2="181.30" stroke="#1a1a1a" stroke-width="1.3" />
<text x="437.60" y="190.70" font-size="8.5" font-weight="bold" font-style="normal" text-anchor="middle" fill="#000" textLength="4.60" lengthAdjust="spacingAndGlyphs" >8</text>
<line x1="468.50" y1="178.90" x2="468.50" y2="181.30" stroke="#1a1a1a" stroke-width="1.3" />
<text x="468.50" y="190.70" font-size="8.5" font-weight="bold" font-style="normal" text-anchor="middle" fill="#000" textLength="8.80" lengthAdjust="spacingAndGlyphs" >10</text>
<line x1="499.40" y1="178.90" x2="499.40" y2="181.30" stroke="#1a1a1a" stroke-width="1.3" />
<text x="499.40" y="190.70" font-size="8.5" font-weight="bold" font-style="normal" text-anchor="middle" fill="#000" textLength="8.80" lengthAdjust="spacingAndGlyphs" >12</text>
<line x1="530.30" y1="178.90" x2="530.30" y2="181.30" stroke="#1a1a1a" stroke-width="1.3" />
<text x="530.30" y="190.70" font-size="8.5" font-weight="bold" font-style="normal" text-anchor="middle" fill="#000" textLength="8.80" lengthAdjust="spacingAndGlyphs" >14</text>
<polyline points="314.00,148.15 329.45,138.44 344.90,118.75 360.35,96.96 375.80,78.32 391.25,67.04 406.70,65.46 422.15,64.41 437.60,63.36 453.05,61.79 468.50,60.47 483.95,58.90 499.40,57.59 514.85,56.27 530.30,54.96" fill="none" stroke="#000" stroke-width="1.1"/>
<line x1="375.80" y1="76.22" x2="375.80" y2="80.42" stroke="#000" stroke-width="1.1" />
<line x1="374.20" y1="76.22" x2="377.40" y2="76.22" stroke="#000" stroke-width="1.5" />
<line x1="374.20" y1="80.42" x2="377.40" y2="80.42" stroke="#000" stroke-width="1.5" />
<line x1="391.25" y1="61.79" x2="391.25" y2="72.29" stroke="#000" stroke-width="1.1" />
<line x1="389.65" y1="61.79" x2="392.85" y2="61.79" stroke="#000" stroke-width="1.5" />
<line x1="389.65" y1="72.29" x2="392.85" y2="72.29" stroke="#000" stroke-width="1.5" />
<line x1="483.95" y1="56.27" x2="483.95" y2="61.52" stroke="#000" stroke-width="1.1" />
<line x1="482.35" y1="56.27" x2="485.55" y2="56.27" stroke="#000" stroke-width="1.5" />
<line x1="482.35" y1="61.52" x2="485.55" y2="61.52" stroke="#000" stroke-width="1.5" />
<line x1="499.40" y1="54.44" x2="499.40" y2="60.74" stroke="#000" stroke-width="1.1" />
<line x1="497.80" y1="54.44" x2="501.00" y2="54.44" stroke="#000" stroke-width="1.5" />
<line x1="497.80" y1="60.74" x2="501.00" y2="60.74" stroke="#000" stroke-width="1.5" />
<circle cx="314.00" cy="148.15" r="2.30" fill="#000"/>
<circle cx="329.45" cy="138.44" r="2.30" fill="#000"/>
<circle cx="344.90" cy="118.75" r="2.30" fill="#000"/>
<circle cx="360.35" cy="96.96" r="2.30" fill="#000"/>
<circle cx="375.80" cy="78.32" r="2.30" fill="#000"/>
<circle cx="391.25" cy="67.04" r="2.30" fill="#000"/>
<circle cx="406.70" cy="65.46" r="2.30" fill="#000"/>
<circle cx="422.15" cy="64.41" r="2.30" fill="#000"/>
<circle cx="437.60" cy="63.36" r="2.30" fill="#000"/>
<circle cx="453.05" cy="61.79" r="2.30" fill="#000"/>
<circle cx="468.50" cy="60.47" r="2.30" fill="#000"/>
<circle cx="483.95" cy="58.90" r="2.30" fill="#000"/>
<circle cx="499.40" cy="57.59" r="2.30" fill="#000"/>
<circle cx="514.85" cy="56.27" r="2.30" fill="#000"/>
<circle cx="530.30" cy="54.96" r="2.30" fill="#000"/>
<polyline points="314.00,153.66 329.45,149.72 344.90,141.85 360.35,122.95 375.80,94.60 391.25,75.70 406.70,62.31 422.15,58.37 437.60,58.90 453.05,59.16 468.50,59.95 483.95,59.16 499.40,59.16 514.85,58.90 530.30,59.16" fill="none" stroke="#ff8c1a" stroke-width="1.1"/>
<line x1="314.00" y1="151.04" x2="314.00" y2="156.29" stroke="#ff8c1a" stroke-width="1.1" />
<line x1="312.40" y1="151.04" x2="315.60" y2="151.04" stroke="#ff8c1a" stroke-width="1.5" />
<line x1="312.40" y1="156.29" x2="315.60" y2="156.29" stroke="#ff8c1a" stroke-width="1.5" />
<line x1="329.45" y1="145.00" x2="329.45" y2="154.45" stroke="#ff8c1a" stroke-width="1.1" />
<line x1="327.85" y1="145.00" x2="331.05" y2="145.00" stroke="#ff8c1a" stroke-width="1.5" />
<line x1="327.85" y1="154.45" x2="331.05" y2="154.45" stroke="#ff8c1a" stroke-width="1.5" />
<line x1="344.90" y1="137.65" x2="344.90" y2="146.05" stroke="#ff8c1a" stroke-width="1.1" />
<line x1="343.30" y1="137.65" x2="346.50" y2="137.65" stroke="#ff8c1a" stroke-width="1.5" />
<line x1="343.30" y1="146.05" x2="346.50" y2="146.05" stroke="#ff8c1a" stroke-width="1.5" />
<line x1="360.35" y1="120.85" x2="360.35" y2="125.05" stroke="#ff8c1a" stroke-width="1.1" />
<line x1="358.75" y1="120.85" x2="361.95" y2="120.85" stroke="#ff8c1a" stroke-width="1.5" />
<line x1="358.75" y1="125.05" x2="361.95" y2="125.05" stroke="#ff8c1a" stroke-width="1.5" />
<line x1="375.80" y1="91.45" x2="375.80" y2="97.75" stroke="#ff8c1a" stroke-width="1.1" />
<line x1="374.20" y1="91.45" x2="377.40" y2="91.45" stroke="#ff8c1a" stroke-width="1.5" />
<line x1="374.20" y1="97.75" x2="377.40" y2="97.75" stroke="#ff8c1a" stroke-width="1.5" />
<line x1="391.25" y1="73.07" x2="391.25" y2="78.32" stroke="#ff8c1a" stroke-width="1.1" />
<line x1="389.65" y1="73.07" x2="392.85" y2="73.07" stroke="#ff8c1a" stroke-width="1.5" />
<line x1="389.65" y1="78.32" x2="392.85" y2="78.32" stroke="#ff8c1a" stroke-width="1.5" />
<line x1="406.70" y1="57.06" x2="406.70" y2="67.56" stroke="#ff8c1a" stroke-width="1.1" />
<line x1="405.10" y1="57.06" x2="408.30" y2="57.06" stroke="#ff8c1a" stroke-width="1.5" />
<line x1="405.10" y1="67.56" x2="408.30" y2="67.56" stroke="#ff8c1a" stroke-width="1.5" />
<line x1="422.15" y1="54.44" x2="422.15" y2="62.31" stroke="#ff8c1a" stroke-width="1.1" />
<line x1="420.55" y1="54.44" x2="423.75" y2="54.44" stroke="#ff8c1a" stroke-width="1.5" />
<line x1="420.55" y1="62.31" x2="423.75" y2="62.31" stroke="#ff8c1a" stroke-width="1.5" />
<line x1="437.60" y1="53.65" x2="437.60" y2="64.15" stroke="#ff8c1a" stroke-width="1.1" />
<line x1="436.00" y1="53.65" x2="439.20" y2="53.65" stroke="#ff8c1a" stroke-width="1.5" />
<line x1="436.00" y1="64.15" x2="439.20" y2="64.15" stroke="#ff8c1a" stroke-width="1.5" />
<line x1="453.05" y1="56.54" x2="453.05" y2="61.79" stroke="#ff8c1a" stroke-width="1.1" />
<line x1="451.45" y1="56.54" x2="454.65" y2="56.54" stroke="#ff8c1a" stroke-width="1.5" />
<line x1="451.45" y1="61.79" x2="454.65" y2="61.79" stroke="#ff8c1a" stroke-width="1.5" />
<line x1="468.50" y1="57.32" x2="468.50" y2="62.57" stroke="#ff8c1a" stroke-width="1.1" />
<line x1="466.90" y1="57.32" x2="470.10" y2="57.32" stroke="#ff8c1a" stroke-width="1.5" />
<line x1="466.90" y1="62.57" x2="470.10" y2="62.57" stroke="#ff8c1a" stroke-width="1.5" />
<line x1="483.95" y1="55.22" x2="483.95" y2="63.10" stroke="#ff8c1a" stroke-width="1.1" />
<line x1="482.35" y1="55.22" x2="485.55" y2="55.22" stroke="#ff8c1a" stroke-width="1.5" />
<line x1="482.35" y1="63.10" x2="485.55" y2="63.10" stroke="#ff8c1a" stroke-width="1.5" />
<line x1="499.40" y1="56.01" x2="499.40" y2="62.31" stroke="#ff8c1a" stroke-width="1.1" />
<line x1="497.80" y1="56.01" x2="501.00" y2="56.01" stroke="#ff8c1a" stroke-width="1.5" />
<line x1="497.80" y1="62.31" x2="501.00" y2="62.31" stroke="#ff8c1a" stroke-width="1.5" />
<line x1="514.85" y1="56.27" x2="514.85" y2="61.52" stroke="#ff8c1a" stroke-width="1.1" />
<line x1="513.25" y1="56.27" x2="516.45" y2="56.27" stroke="#ff8c1a" stroke-width="1.5" />
<line x1="513.25" y1="61.52" x2="516.45" y2="61.52" stroke="#ff8c1a" stroke-width="1.5" />
<line x1="530.30" y1="57.06" x2="530.30" y2="61.26" stroke="#ff8c1a" stroke-width="1.1" />
<line x1="528.70" y1="57.06" x2="531.90" y2="57.06" stroke="#ff8c1a" stroke-width="1.5" />
<line x1="528.70" y1="61.26" x2="531.90" y2="61.26" stroke="#ff8c1a" stroke-width="1.5" />
<circle cx="314.00" cy="153.66" r="1.50" fill="#ff8c1a"/>
<circle cx="329.45" cy="149.72" r="1.50" fill="#ff8c1a"/>
<circle cx="344.90" cy="141.85" r="1.50" fill="#ff8c1a"/>
<circle cx="360.35" cy="122.95" r="1.50" fill="#ff8c1a"/>
<circle cx="375.80" cy="94.60" r="1.50" fill="#ff8c1a"/>
<circle cx="391.25" cy="75.70" r="1.50" fill="#ff8c1a"/>
<circle cx="406.70" cy="62.31" r="1.50" fill="#ff8c1a"/>
<circle cx="422.15" cy="58.37" r="1.50" fill="#ff8c1a"/>
<circle cx="437.60" cy="58.90" r="1.50" fill="#ff8c1a"/>
<circle cx="453.05" cy="59.16" r="1.50" fill="#ff8c1a"/>
<circle cx="468.50" cy="59.95" r="1.50" fill="#ff8c1a"/>
<circle cx="483.95" cy="59.16" r="1.50" fill="#ff8c1a"/>
<circle cx="499.40" cy="59.16" r="1.50" fill="#ff8c1a"/>
<circle cx="514.85" cy="58.90" r="1.50" fill="#ff8c1a"/>
<circle cx="530.30" cy="59.16" r="1.50" fill="#ff8c1a"/>
<polyline points="314.00,152.35 329.45,149.72 344.90,141.85 360.35,124.00 375.80,99.06 391.25,80.69 406.70,64.94 422.15,59.16 437.60,60.47 453.05,59.95 468.50,60.47 483.95,61.00 499.40,61.26 514.85,59.95 530.30,61.00" fill="none" stroke="#a040f0" stroke-width="1.1"/>
<line x1="344.90" y1="140.27" x2="344.90" y2="143.42" stroke="#a040f0" stroke-width="1.1" />
<line x1="343.30" y1="140.27" x2="346.50" y2="140.27" stroke="#a040f0" stroke-width="1.5" />
<line x1="343.30" y1="143.42" x2="346.50" y2="143.42" stroke="#a040f0" stroke-width="1.5" />
<line x1="360.35" y1="122.42" x2="360.35" y2="125.57" stroke="#a040f0" stroke-width="1.1" />
<line x1="358.75" y1="122.42" x2="361.95" y2="122.42" stroke="#a040f0" stroke-width="1.5" />
<line x1="358.75" y1="125.57" x2="361.95" y2="125.57" stroke="#a040f0" stroke-width="1.5" />
<line x1="375.80" y1="96.44" x2="375.80" y2="101.69" stroke="#a040f0" stroke-width="1.1" />
<line x1="374.20" y1="96.44" x2="377.40" y2="96.44" stroke="#a040f0" stroke-width="1.5" />
<line x1="374.20" y1="101.69" x2="377.40" y2="101.69" stroke="#a040f0" stroke-width="1.5" />
<line x1="391.25" y1="78.06" x2="391.25" y2="83.31" stroke="#a040f0" stroke-width="1.1" />
<line x1="389.65" y1="78.06" x2="392.85" y2="78.06" stroke="#a040f0" stroke-width="1.5" />
<line x1="389.65" y1="83.31" x2="392.85" y2="83.31" stroke="#a040f0" stroke-width="1.5" />
<line x1="406.70" y1="62.84" x2="406.70" y2="67.04" stroke="#a040f0" stroke-width="1.1" />
<line x1="405.10" y1="62.84" x2="408.30" y2="62.84" stroke="#a040f0" stroke-width="1.5" />
<line x1="405.10" y1="67.04" x2="408.30" y2="67.04" stroke="#a040f0" stroke-width="1.5" />
<line x1="422.15" y1="57.06" x2="422.15" y2="61.26" stroke="#a040f0" stroke-width="1.1" />
<line x1="420.55" y1="57.06" x2="423.75" y2="57.06" stroke="#a040f0" stroke-width="1.5" />
<line x1="420.55" y1="61.26" x2="423.75" y2="61.26" stroke="#a040f0" stroke-width="1.5" />
<line x1="437.60" y1="57.85" x2="437.60" y2="63.10" stroke="#a040f0" stroke-width="1.1" />
<line x1="436.00" y1="57.85" x2="439.20" y2="57.85" stroke="#a040f0" stroke-width="1.5" />
<line x1="436.00" y1="63.10" x2="439.20" y2="63.10" stroke="#a040f0" stroke-width="1.5" />
<line x1="453.05" y1="57.85" x2="453.05" y2="62.05" stroke="#a040f0" stroke-width="1.1" />
<line x1="451.45" y1="57.85" x2="454.65" y2="57.85" stroke="#a040f0" stroke-width="1.5" />
<line x1="451.45" y1="62.05" x2="454.65" y2="62.05" stroke="#a040f0" stroke-width="1.5" />
<line x1="468.50" y1="57.85" x2="468.50" y2="63.10" stroke="#a040f0" stroke-width="1.1" />
<line x1="466.90" y1="57.85" x2="470.10" y2="57.85" stroke="#a040f0" stroke-width="1.5" />
<line x1="466.90" y1="63.10" x2="470.10" y2="63.10" stroke="#a040f0" stroke-width="1.5" />
<line x1="483.95" y1="58.37" x2="483.95" y2="63.62" stroke="#a040f0" stroke-width="1.1" />
<line x1="482.35" y1="58.37" x2="485.55" y2="58.37" stroke="#a040f0" stroke-width="1.5" />
<line x1="482.35" y1="63.62" x2="485.55" y2="63.62" stroke="#a040f0" stroke-width="1.5" />
<line x1="499.40" y1="59.16" x2="499.40" y2="63.36" stroke="#a040f0" stroke-width="1.1" />
<line x1="497.80" y1="59.16" x2="501.00" y2="59.16" stroke="#a040f0" stroke-width="1.5" />
<line x1="497.80" y1="63.36" x2="501.00" y2="63.36" stroke="#a040f0" stroke-width="1.5" />
<line x1="514.85" y1="57.85" x2="514.85" y2="62.05" stroke="#a040f0" stroke-width="1.1" />
<line x1="513.25" y1="57.85" x2="516.45" y2="57.85" stroke="#a040f0" stroke-width="1.5" />
<line x1="513.25" y1="62.05" x2="516.45" y2="62.05" stroke="#a040f0" stroke-width="1.5" />
<line x1="530.30" y1="59.69" x2="530.30" y2="62.31" stroke="#a040f0" stroke-width="1.1" />
<line x1="528.70" y1="59.69" x2="531.90" y2="59.69" stroke="#a040f0" stroke-width="1.5" />
<line x1="528.70" y1="62.31" x2="531.90" y2="62.31" stroke="#a040f0" stroke-width="1.5" />
<polygon points="314.00,154.44 316.09,150.83 311.91,150.83" fill="#a040f0"/>
<polygon points="329.45,151.81 331.54,148.20 327.36,148.20" fill="#a040f0"/>
<polygon points="344.90,143.94 346.99,140.33 342.81,140.33" fill="#a040f0"/>
<polygon points="360.35,126.09 362.44,122.48 358.26,122.48" fill="#a040f0"/>
<polygon points="375.80,101.15 377.89,97.54 373.71,97.54" fill="#a040f0"/>
<polygon points="391.25,82.78 393.34,79.17 389.16,79.17" fill="#a040f0"/>
<polygon points="406.70,67.03 408.79,63.42 404.61,63.42" fill="#a040f0"/>
<polygon points="422.15,61.25 424.24,57.64 420.06,57.64" fill="#a040f0"/>
<polygon points="437.60,62.56 439.69,58.95 435.51,58.95" fill="#a040f0"/>
<polygon points="453.05,62.04 455.14,58.43 450.96,58.43" fill="#a040f0"/>
<polygon points="468.50,62.56 470.59,58.95 466.41,58.95" fill="#a040f0"/>
<polygon points="483.95,63.09 486.04,59.48 481.86,59.48" fill="#a040f0"/>
<polygon points="499.40,63.35 501.49,59.74 497.31,59.74" fill="#a040f0"/>
<polygon points="514.85,62.04 516.94,58.43 512.76,58.43" fill="#a040f0"/>
<polygon points="530.30,63.09 532.39,59.48 528.21,59.48" fill="#a040f0"/>
<polyline points="314.00,152.35 329.45,149.72 344.90,141.32 360.35,126.89 375.80,104.05 391.25,85.15 406.70,68.35 422.15,58.90 437.60,61.26 453.05,62.31 468.50,61.79 483.95,63.10 499.40,63.89 514.85,63.89 530.30,63.89" fill="none" stroke="#10c010" stroke-width="1.1"/>
<line x1="344.90" y1="140.01" x2="344.90" y2="142.64" stroke="#10c010" stroke-width="1.1" />
<line x1="343.30" y1="140.01" x2="346.50" y2="140.01" stroke="#10c010" stroke-width="1.5" />
<line x1="343.30" y1="142.64" x2="346.50" y2="142.64" stroke="#10c010" stroke-width="1.5" />
<line x1="360.35" y1="125.31" x2="360.35" y2="128.46" stroke="#10c010" stroke-width="1.1" />
<line x1="358.75" y1="125.31" x2="361.95" y2="125.31" stroke="#10c010" stroke-width="1.5" />
<line x1="358.75" y1="128.46" x2="361.95" y2="128.46" stroke="#10c010" stroke-width="1.5" />
<line x1="375.80" y1="101.42" x2="375.80" y2="106.67" stroke="#10c010" stroke-width="1.1" />
<line x1="374.20" y1="101.42" x2="377.40" y2="101.42" stroke="#10c010" stroke-width="1.5" />
<line x1="374.20" y1="106.67" x2="377.40" y2="106.67" stroke="#10c010" stroke-width="1.5" />
<line x1="391.25" y1="82.00" x2="391.25" y2="88.30" stroke="#10c010" stroke-width="1.1" />
<line x1="389.65" y1="82.00" x2="392.85" y2="82.00" stroke="#10c010" stroke-width="1.5" />
<line x1="389.65" y1="88.30" x2="392.85" y2="88.30" stroke="#10c010" stroke-width="1.5" />
<line x1="406.70" y1="62.57" x2="406.70" y2="74.12" stroke="#10c010" stroke-width="1.1" />
<line x1="405.10" y1="62.57" x2="408.30" y2="62.57" stroke="#10c010" stroke-width="1.5" />
<line x1="405.10" y1="74.12" x2="408.30" y2="74.12" stroke="#10c010" stroke-width="1.5" />
<line x1="422.15" y1="56.27" x2="422.15" y2="61.52" stroke="#10c010" stroke-width="1.1" />
<line x1="420.55" y1="56.27" x2="423.75" y2="56.27" stroke="#10c010" stroke-width="1.5" />
<line x1="420.55" y1="61.52" x2="423.75" y2="61.52" stroke="#10c010" stroke-width="1.5" />
<line x1="437.60" y1="58.64" x2="437.60" y2="63.89" stroke="#10c010" stroke-width="1.1" />
<line x1="436.00" y1="58.64" x2="439.20" y2="58.64" stroke="#10c010" stroke-width="1.5" />
<line x1="436.00" y1="63.89" x2="439.20" y2="63.89" stroke="#10c010" stroke-width="1.5" />
<line x1="453.05" y1="59.69" x2="453.05" y2="64.94" stroke="#10c010" stroke-width="1.1" />
<line x1="451.45" y1="59.69" x2="454.65" y2="59.69" stroke="#10c010" stroke-width="1.5" />
<line x1="451.45" y1="64.94" x2="454.65" y2="64.94" stroke="#10c010" stroke-width="1.5" />
<line x1="468.50" y1="59.16" x2="468.50" y2="64.41" stroke="#10c010" stroke-width="1.1" />
<line x1="466.90" y1="59.16" x2="470.10" y2="59.16" stroke="#10c010" stroke-width="1.5" />
<line x1="466.90" y1="64.41" x2="470.10" y2="64.41" stroke="#10c010" stroke-width="1.5" />
<line x1="483.95" y1="60.47" x2="483.95" y2="65.72" stroke="#10c010" stroke-width="1.1" />
<line x1="482.35" y1="60.47" x2="485.55" y2="60.47" stroke="#10c010" stroke-width="1.5" />
<line x1="482.35" y1="65.72" x2="485.55" y2="65.72" stroke="#10c010" stroke-width="1.5" />
<line x1="499.40" y1="61.79" x2="499.40" y2="65.99" stroke="#10c010" stroke-width="1.1" />
<line x1="497.80" y1="61.79" x2="501.00" y2="61.79" stroke="#10c010" stroke-width="1.5" />
<line x1="497.80" y1="65.99" x2="501.00" y2="65.99" stroke="#10c010" stroke-width="1.5" />
<line x1="514.85" y1="61.79" x2="514.85" y2="65.99" stroke="#10c010" stroke-width="1.1" />
<line x1="513.25" y1="61.79" x2="516.45" y2="61.79" stroke="#10c010" stroke-width="1.5" />
<line x1="513.25" y1="65.99" x2="516.45" y2="65.99" stroke="#10c010" stroke-width="1.5" />
<line x1="530.30" y1="62.57" x2="530.30" y2="65.20" stroke="#10c010" stroke-width="1.1" />
<line x1="528.70" y1="62.57" x2="531.90" y2="62.57" stroke="#10c010" stroke-width="1.5" />
<line x1="528.70" y1="65.20" x2="531.90" y2="65.20" stroke="#10c010" stroke-width="1.5" />
<polygon points="314.00,150.15 316.20,153.95 311.80,153.95" fill="#10c010"/>
<polygon points="329.45,147.53 331.65,151.32 327.25,151.32" fill="#10c010"/>
<polygon points="344.90,139.12 347.10,142.92 342.70,142.92" fill="#10c010"/>
<polygon points="360.35,124.69 362.55,128.49 358.15,128.49" fill="#10c010"/>
<polygon points="375.80,101.85 378.00,105.65 373.60,105.65" fill="#10c010"/>
<polygon points="391.25,82.95 393.45,86.75 389.05,86.75" fill="#10c010"/>
<polygon points="406.70,66.15 408.90,69.95 404.50,69.95" fill="#10c010"/>
<polygon points="422.15,56.70 424.35,60.50 419.95,60.50" fill="#10c010"/>
<polygon points="437.60,59.06 439.80,62.86 435.40,62.86" fill="#10c010"/>
<polygon points="453.05,60.11 455.25,63.91 450.85,63.91" fill="#10c010"/>
<polygon points="468.50,59.59 470.70,63.39 466.30,63.39" fill="#10c010"/>
<polygon points="483.95,60.90 486.15,64.70 481.75,64.70" fill="#10c010"/>
<polygon points="499.40,61.69 501.60,65.49 497.20,65.49" fill="#10c010"/>
<polygon points="514.85,61.69 517.05,65.49 512.65,65.49" fill="#10c010"/>
<polygon points="530.30,61.69 532.50,65.49 528.10,65.49" fill="#10c010"/>
<polyline points="314.00,151.04 329.45,148.67 344.90,144.21 360.35,131.09 375.80,112.19 391.25,97.22 406.70,83.05 422.15,69.92 437.60,66.77 453.05,67.30 468.50,68.35 483.95,69.40 499.40,69.40 514.85,69.40 530.30,69.40" fill="none" stroke="#ff1010" stroke-width="1.1"/>
<line x1="314.00" y1="148.94" x2="314.00" y2="153.14" stroke="#ff1010" stroke-width="1.1" />
<line x1="312.40" y1="148.94" x2="315.60" y2="148.94" stroke="#ff1010" stroke-width="1.5" />
<line x1="312.40" y1="153.14" x2="315.60" y2="153.14" stroke="#ff1010" stroke-width="1.5" />
<line x1="329.45" y1="146.05" x2="329.45" y2="151.30" stroke="#ff1010" stroke-width="1.1" />
<line x1="327.85" y1="146.05" x2="331.05" y2="146.05" stroke="#ff1010" stroke-width="1.5" />
<line x1="327.85" y1="151.30" x2="331.05" y2="151.30" stroke="#ff1010" stroke-width="1.5" />
<line x1="344.90" y1="142.90" x2="344.90" y2="145.52" stroke="#ff1010" stroke-width="1.1" />
<line x1="343.30" y1="142.90" x2="346.50" y2="142.90" stroke="#ff1010" stroke-width="1.5" />
<line x1="343.30" y1="145.52" x2="346.50" y2="145.52" stroke="#ff1010" stroke-width="1.5" />
<line x1="406.70" y1="81.21" x2="406.70" y2="84.89" stroke="#ff1010" stroke-width="1.1" />
<line x1="405.10" y1="81.21" x2="408.30" y2="81.21" stroke="#ff1010" stroke-width="1.5" />
<line x1="405.10" y1="84.89" x2="408.30" y2="84.89" stroke="#ff1010" stroke-width="1.5" />
<line x1="422.15" y1="65.20" x2="422.15" y2="74.65" stroke="#ff1010" stroke-width="1.1" />
<line x1="420.55" y1="65.20" x2="423.75" y2="65.20" stroke="#ff1010" stroke-width="1.5" />
<line x1="420.55" y1="74.65" x2="423.75" y2="74.65" stroke="#ff1010" stroke-width="1.5" />
<line x1="437.60" y1="64.15" x2="437.60" y2="69.40" stroke="#ff1010" stroke-width="1.1" />
<line x1="436.00" y1="64.15" x2="439.20" y2="64.15" stroke="#ff1010" stroke-width="1.5" />
<line x1="436.00" y1="69.40" x2="439.20" y2="69.40" stroke="#ff1010" stroke-width="1.5" />
<line x1="453.05" y1="65.20" x2="453.05" y2="69.40" stroke="#ff1010" stroke-width="1.1" />
<line x1="451.45" y1="65.20" x2="454.65" y2="65.20" stroke="#ff1010" stroke-width="1.5" />
<line x1="451.45" y1="69.40" x2="454.65" y2="69.40" stroke="#ff1010" stroke-width="1.5" />
<line x1="468.50" y1="66.25" x2="468.50" y2="70.45" stroke="#ff1010" stroke-width="1.1" />
<line x1="466.90" y1="66.25" x2="470.10" y2="66.25" stroke="#ff1010" stroke-width="1.5" />
<line x1="466.90" y1="70.45" x2="470.10" y2="70.45" stroke="#ff1010" stroke-width="1.5" />
<line x1="483.95" y1="67.30" x2="483.95" y2="71.50" stroke="#ff1010" stroke-width="1.1" />
<line x1="482.35" y1="67.30" x2="485.55" y2="67.30" stroke="#ff1010" stroke-width="1.5" />
<line x1="482.35" y1="71.50" x2="485.55" y2="71.50" stroke="#ff1010" stroke-width="1.5" />
<line x1="499.40" y1="68.09" x2="499.40" y2="70.71" stroke="#ff1010" stroke-width="1.1" />
<line x1="497.80" y1="68.09" x2="501.00" y2="68.09" stroke="#ff1010" stroke-width="1.5" />
<line x1="497.80" y1="70.71" x2="501.00" y2="70.71" stroke="#ff1010" stroke-width="1.5" />
<line x1="514.85" y1="68.09" x2="514.85" y2="70.71" stroke="#ff1010" stroke-width="1.1" />
<line x1="513.25" y1="68.09" x2="516.45" y2="68.09" stroke="#ff1010" stroke-width="1.5" />
<line x1="513.25" y1="70.71" x2="516.45" y2="70.71" stroke="#ff1010" stroke-width="1.5" />
<line x1="530.30" y1="68.09" x2="530.30" y2="70.71" stroke="#ff1010" stroke-width="1.1" />
<line x1="528.70" y1="68.09" x2="531.90" y2="68.09" stroke="#ff1010" stroke-width="1.5" />
<line x1="528.70" y1="70.71" x2="531.90" y2="70.71" stroke="#ff1010" stroke-width="1.5" />
<rect x="312.15" y="149.19" width="3.70" height="3.70" fill="#ff1010"/>
<rect x="327.60" y="146.82" width="3.70" height="3.70" fill="#ff1010"/>
<rect x="343.05" y="142.36" width="3.70" height="3.70" fill="#ff1010"/>
<rect x="358.50" y="129.24" width="3.70" height="3.70" fill="#ff1010"/>
<rect x="373.95" y="110.34" width="3.70" height="3.70" fill="#ff1010"/>
<rect x="389.40" y="95.38" width="3.70" height="3.70" fill="#ff1010"/>
<rect x="404.85" y="81.20" width="3.70" height="3.70" fill="#ff1010"/>
<rect x="420.30" y="68.08" width="3.70" height="3.70" fill="#ff1010"/>
<rect x="435.75" y="64.92" width="3.70" height="3.70" fill="#ff1010"/>
<rect x="451.20" y="65.45" width="3.70" height="3.70" fill="#ff1010"/>
<rect x="466.65" y="66.50" width="3.70" height="3.70" fill="#ff1010"/>
<rect x="482.10" y="67.55" width="3.70" height="3.70" fill="#ff1010"/>
<rect x="497.55" y="67.55" width="3.70" height="3.70" fill="#ff1010"/>
<rect x="513.00" y="67.55" width="3.70" height="3.70" fill="#ff1010"/>
<rect x="528.45" y="67.55" width="3.70" height="3.70" fill="#ff1010"/>
<polyline points="314.00,152.88 329.45,151.56 344.90,148.15 360.35,140.01 375.80,124.79 391.25,113.24 406.70,99.59 422.15,86.99 437.60,79.64 453.05,75.96 468.50,75.96 483.95,75.44 499.40,74.91 514.85,74.91 530.30,74.12" fill="none" stroke="#1010ff" stroke-width="1.1"/>
<line x1="437.60" y1="74.39" x2="437.60" y2="84.89" stroke="#1010ff" stroke-width="1.1" />
<line x1="436.00" y1="74.39" x2="439.20" y2="74.39" stroke="#1010ff" stroke-width="1.5" />
<line x1="436.00" y1="84.89" x2="439.20" y2="84.89" stroke="#1010ff" stroke-width="1.5" />
<line x1="453.05" y1="73.86" x2="453.05" y2="78.06" stroke="#1010ff" stroke-width="1.1" />
<line x1="451.45" y1="73.86" x2="454.65" y2="73.86" stroke="#1010ff" stroke-width="1.5" />
<line x1="451.45" y1="78.06" x2="454.65" y2="78.06" stroke="#1010ff" stroke-width="1.5" />
<line x1="468.50" y1="73.86" x2="468.50" y2="78.06" stroke="#1010ff" stroke-width="1.1" />
<line x1="466.90" y1="73.86" x2="470.10" y2="73.86" stroke="#1010ff" stroke-width="1.5" />
<line x1="466.90" y1="78.06" x2="470.10" y2="78.06" stroke="#1010ff" stroke-width="1.5" />
<line x1="483.95" y1="71.50" x2="483.95" y2="79.38" stroke="#1010ff" stroke-width="1.1" />
<line x1="482.35" y1="71.50" x2="485.55" y2="71.50" stroke="#1010ff" stroke-width="1.5" />
<line x1="482.35" y1="79.38" x2="485.55" y2="79.38" stroke="#1010ff" stroke-width="1.5" />
<line x1="499.40" y1="72.81" x2="499.40" y2="77.01" stroke="#1010ff" stroke-width="1.1" />
<line x1="497.80" y1="72.81" x2="501.00" y2="72.81" stroke="#1010ff" stroke-width="1.5" />
<line x1="497.80" y1="77.01" x2="501.00" y2="77.01" stroke="#1010ff" stroke-width="1.5" />
<line x1="514.85" y1="72.81" x2="514.85" y2="77.01" stroke="#1010ff" stroke-width="1.1" />
<line x1="513.25" y1="72.81" x2="516.45" y2="72.81" stroke="#1010ff" stroke-width="1.5" />
<line x1="513.25" y1="77.01" x2="516.45" y2="77.01" stroke="#1010ff" stroke-width="1.5" />
<circle cx="314.00" cy="152.88" r="1.75" fill="#1010ff"/>
<circle cx="329.45" cy="151.56" r="1.75" fill="#1010ff"/>
<circle cx="344.90" cy="148.15" r="1.75" fill="#1010ff"/>
<circle cx="360.35" cy="140.01" r="1.75" fill="#1010ff"/>
<circle cx="375.80" cy="124.79" r="1.75" fill="#1010ff"/>
<circle cx="391.25" cy="113.24" r="1.75" fill="#1010ff"/>
<circle cx="406.70" cy="99.59" r="1.75" fill="#1010ff"/>
<circle cx="422.15" cy="86.99" r="1.75" fill="#1010ff"/>
<circle cx="437.60" cy="79.64" r="1.75" fill="#1010ff"/>
<circle cx="453.05" cy="75.96" r="1.75" fill="#1010ff"/>
<circle cx="468.50" cy="75.96" r="1.75" fill="#1010ff"/>
<circle cx="483.95" cy="75.44" r="1.75" fill="#1010ff"/>
<circle cx="499.40" cy="74.91" r="1.75" fill="#1010ff"/>
<circle cx="514.85" cy="74.91" r="1.75" fill="#1010ff"/>
<circle cx="530.30" cy="74.12" r="1.75" fill="#1010ff"/>
<rect x="318.4" y="20.1" width="63.9" height="47.0" fill="#fff" stroke="#333" stroke-width="1.5"/>
<line x1="321.30" y1="25.20" x2="340.80" y2="25.20" stroke="#1010ff" stroke-width="1.3" />
<circle cx="331.10" cy="25.20" r="1.75" fill="#1010ff"/>
<text x="352.20" y="27.30" font-size="6.2" font-weight="normal" font-style="normal" text-anchor="start" fill="#111" textLength="21.00" lengthAdjust="spacingAndGlyphs" >4 mg/L</text>
<line x1="321.30" y1="33.00" x2="340.80" y2="33.00" stroke="#ff1010" stroke-width="1.3" />
<rect x="329.25" y="31.15" width="3.70" height="3.70" fill="#ff1010"/>
<text x="352.20" y="35.10" font-size="6.2" font-weight="normal" font-style="normal" text-anchor="start" fill="#111" textLength="21.00" lengthAdjust="spacingAndGlyphs" >2 mg/L</text>
<line x1="321.30" y1="41.00" x2="340.80" y2="41.00" stroke="#10c010" stroke-width="1.3" />
<polygon points="331.10,38.80 333.30,42.60 328.90,42.60" fill="#10c010"/>
<text x="352.20" y="43.10" font-size="6.2" font-weight="normal" font-style="normal" text-anchor="start" fill="#111" textLength="21.00" lengthAdjust="spacingAndGlyphs" >1 mg/L</text>
<line x1="321.30" y1="47.70" x2="340.80" y2="47.70" stroke="#a040f0" stroke-width="1.3" />
<polygon points="331.10,49.79 333.19,46.18 329.01,46.18" fill="#a040f0"/>
<text x="352.20" y="49.80" font-size="6.2" font-weight="normal" font-style="normal" text-anchor="start" fill="#111" textLength="24.80" lengthAdjust="spacingAndGlyphs" >0.5mg/L</text>
<line x1="321.30" y1="55.60" x2="340.80" y2="55.60" stroke="#ff8c1a" stroke-width="1.3" />
<circle cx="331.10" cy="55.60" r="1.50" fill="#ff8c1a"/>
<text x="352.20" y="57.70" font-size="6.2" font-weight="normal" font-style="normal" text-anchor="start" fill="#111" textLength="27.60" lengthAdjust="spacingAndGlyphs" >0.25mg/L</text>
<line x1="321.30" y1="62.60" x2="340.80" y2="62.60" stroke="#000" stroke-width="1.3" />
<circle cx="331.10" cy="62.60" r="2.30" fill="#000"/>
<text x="352.20" y="64.70" font-size="6.2" font-weight="normal" font-style="normal" text-anchor="start" fill="#111" textLength="21.00" lengthAdjust="spacingAndGlyphs" >0 mg/L</text>
<text x="402.50" y="207.60" font-size="9.4" font-weight="bold" font-style="normal" text-anchor="start" fill="#000" textLength="41.00" lengthAdjust="spacing" >Time (h)</text>
<g transform="translate(287.3,113.4) rotate(-90)"><text x="0.00" y="0.00" font-size="10" font-weight="bold" font-style="normal" text-anchor="start" fill="#000" textLength="13.40" lengthAdjust="spacingAndGlyphs" >OD</text><text x="13.50" y="2.10" font-size="7.2" font-weight="bold" font-style="normal" text-anchor="start" fill="#000" textLength="9.30" lengthAdjust="spacing" style="stroke:none">600</text></g>
<line x1="59.50" y1="232.30" x2="59.50" y2="411.80" stroke="#1a1a1a" stroke-width="1.3" />
<line x1="58.90" y1="411.20" x2="288.00" y2="411.20" stroke="#1a1a1a" stroke-width="1.3" />
<line x1="56.70" y1="411.20" x2="59.50" y2="411.20" stroke="#1a1a1a" stroke-width="1.3" />
<text x="54.60" y="414.60" font-size="10" font-weight="bold" font-style="normal" text-anchor="end" fill="#000" textLength="5.80" lengthAdjust="spacingAndGlyphs" >0</text>
<line x1="56.70" y1="366.50" x2="59.50" y2="366.50" stroke="#1a1a1a" stroke-width="1.3" />
<text x="54.60" y="369.90" font-size="10" font-weight="bold" font-style="normal" text-anchor="end" fill="#000" textLength="11.50" lengthAdjust="spacingAndGlyphs" >30</text>
<line x1="56.70" y1="321.80" x2="59.50" y2="321.80" stroke="#1a1a1a" stroke-width="1.3" />
<text x="54.60" y="325.20" font-size="10" font-weight="bold" font-style="normal" text-anchor="end" fill="#000" textLength="11.50" lengthAdjust="spacingAndGlyphs" >60</text>
<line x1="56.70" y1="277.10" x2="59.50" y2="277.10" stroke="#1a1a1a" stroke-width="1.3" />
<text x="54.60" y="280.50" font-size="10" font-weight="bold" font-style="normal" text-anchor="end" fill="#000" textLength="11.80" lengthAdjust="spacingAndGlyphs" >90</text>
<line x1="56.70" y1="232.40" x2="59.50" y2="232.40" stroke="#1a1a1a" stroke-width="1.3" />
<text x="54.60" y="235.80" font-size="10" font-weight="bold" font-style="normal" text-anchor="end" fill="#000" textLength="17.60" lengthAdjust="spacingAndGlyphs" >120</text>
<rect x="72.20" y="409.71" width="23.6" height="1.49" fill="#000"/>
<line x1="84.00" y1="411.20" x2="84.00" y2="413.70" stroke="#1a1a1a" stroke-width="1.3" />
<text x="84.00" y="425.00" font-size="9.8" font-weight="bold" font-style="normal" text-anchor="middle" fill="#000" textLength="5.00" lengthAdjust="spacingAndGlyphs" >0</text>
<rect x="108.10" y="321.80" width="23.6" height="89.40" fill="#000"/>
<line x1="119.90" y1="306.75" x2="119.90" y2="321.80" stroke="#111" stroke-width="1.4" />
<line x1="114.10" y1="306.75" x2="125.70" y2="306.75" stroke="#111" stroke-width="1.4" />
<polygon points="113.30,296.90 113.91,298.36 115.49,298.49 114.28,299.52 114.65,301.06 113.30,300.24 111.95,301.06 112.32,299.52 111.11,298.49 112.69,298.36" fill="#000"/>
<polygon points="117.70,296.90 118.31,298.36 119.89,298.49 118.68,299.52 119.05,301.06 117.70,300.24 116.35,301.06 116.72,299.52 115.51,298.49 117.09,298.36" fill="#000"/>
<polygon points="122.10,296.90 122.71,298.36 124.29,298.49 123.08,299.52 123.45,301.06 122.10,300.24 120.75,301.06 121.12,299.52 119.91,298.49 121.49,298.36" fill="#000"/>
<polygon points="126.50,296.90 127.11,298.36 128.69,298.49 127.48,299.52 127.85,301.06 126.50,300.24 125.15,301.06 125.52,299.52 124.31,298.49 125.89,298.36" fill="#000"/>
<line x1="119.90" y1="411.20" x2="119.90" y2="413.70" stroke="#1a1a1a" stroke-width="1.3" />
<text x="119.90" y="425.00" font-size="9.8" font-weight="bold" font-style="normal" text-anchor="middle" fill="#000" textLength="21.00" lengthAdjust="spacingAndGlyphs" >0.25</text>
<rect x="144.00" y="299.75" width="23.6" height="111.45" fill="#000"/>
<line x1="155.80" y1="290.66" x2="155.80" y2="299.75" stroke="#111" stroke-width="1.4" />
<line x1="150.00" y1="290.66" x2="161.60" y2="290.66" stroke="#111" stroke-width="1.4" />
<polygon points="149.20,277.40 149.81,278.86 151.39,278.99 150.18,280.02 150.55,281.56 149.20,280.74 147.85,281.56 148.22,280.02 147.01,278.99 148.59,278.86" fill="#000"/>
<polygon points="153.60,277.40 154.21,278.86 155.79,278.99 154.58,280.02 154.95,281.56 153.60,280.74 152.25,281.56 152.62,280.02 151.41,278.99 152.99,278.86" fill="#000"/>
<polygon points="158.00,277.40 158.61,278.86 160.19,278.99 158.98,280.02 159.35,281.56 158.00,280.74 156.65,281.56 157.02,280.02 155.81,278.99 157.39,278.86" fill="#000"/>
<polygon points="162.40,277.40 163.01,278.86 164.59,278.99 163.38,280.02 163.75,281.56 162.40,280.74 161.05,281.56 161.42,280.02 160.21,278.99 161.79,278.86" fill="#000"/>
<line x1="155.80" y1="411.20" x2="155.80" y2="413.70" stroke="#1a1a1a" stroke-width="1.3" />
<text x="155.80" y="425.00" font-size="9.8" font-weight="bold" font-style="normal" text-anchor="middle" fill="#000" textLength="14.00" lengthAdjust="spacingAndGlyphs" >0.5</text>
<rect x="179.90" y="255.05" width="23.6" height="156.15" fill="#000"/>
<line x1="191.70" y1="236.57" x2="191.70" y2="255.05" stroke="#111" stroke-width="1.4" />
<line x1="185.90" y1="236.57" x2="197.50" y2="236.57" stroke="#111" stroke-width="1.4" />
<polygon points="185.10,226.50 185.71,227.96 187.29,228.09 186.08,229.12 186.45,230.66 185.10,229.84 183.75,230.66 184.12,229.12 182.91,228.09 184.49,227.96" fill="#000"/>
<polygon points="189.50,226.50 190.11,227.96 191.69,228.09 190.48,229.12 190.85,230.66 189.50,229.84 188.15,230.66 188.52,229.12 187.31,228.09 188.89,227.96" fill="#000"/>
<polygon points="193.90,226.50 194.51,227.96 196.09,228.09 194.88,229.12 195.25,230.66 193.90,229.84 192.55,230.66 192.92,229.12 191.71,228.09 193.29,227.96" fill="#000"/>
<polygon points="198.30,226.50 198.91,227.96 200.49,228.09 199.28,229.12 199.65,230.66 198.30,229.84 196.95,230.66 197.32,229.12 196.11,228.09 197.69,227.96" fill="#000"/>
<line x1="191.70" y1="411.20" x2="191.70" y2="413.70" stroke="#1a1a1a" stroke-width="1.3" />
<text x="191.70" y="425.00" font-size="9.8" font-weight="bold" font-style="normal" text-anchor="middle" fill="#000" textLength="5.00" lengthAdjust="spacingAndGlyphs" >1</text>
<rect x="215.80" y="262.05" width="23.6" height="149.15" fill="#000"/>
<line x1="227.60" y1="249.83" x2="227.60" y2="262.05" stroke="#111" stroke-width="1.4" />
<line x1="221.80" y1="249.83" x2="233.40" y2="249.83" stroke="#111" stroke-width="1.4" />
<polygon points="221.00,236.70 221.61,238.16 223.19,238.29 221.98,239.32 222.35,240.86 221.00,240.03 219.65,240.86 220.02,239.32 218.81,238.29 220.39,238.16" fill="#000"/>
<polygon points="225.40,236.70 226.01,238.16 227.59,238.29 226.38,239.32 226.75,240.86 225.40,240.03 224.05,240.86 224.42,239.32 223.21,238.29 224.79,238.16" fill="#000"/>
<polygon points="229.80,236.70 230.41,238.16 231.99,238.29 230.78,239.32 231.15,240.86 229.80,240.03 228.45,240.86 228.82,239.32 227.61,238.29 229.19,238.16" fill="#000"/>
<polygon points="234.20,236.70 234.81,238.16 236.39,238.29 235.18,239.32 235.55,240.86 234.20,240.03 232.85,240.86 233.22,239.32 232.01,238.29 233.59,238.16" fill="#000"/>
<line x1="227.60" y1="411.20" x2="227.60" y2="413.70" stroke="#1a1a1a" stroke-width="1.3" />
<text x="227.60" y="425.00" font-size="9.8" font-weight="bold" font-style="normal" text-anchor="middle" fill="#000" textLength="5.00" lengthAdjust="spacingAndGlyphs" >2</text>
<rect x="251.70" y="269.65" width="23.6" height="141.55" fill="#000"/>
<line x1="263.50" y1="254.75" x2="263.50" y2="269.65" stroke="#111" stroke-width="1.4" />
<line x1="257.70" y1="254.75" x2="269.30" y2="254.75" stroke="#111" stroke-width="1.4" />
<polygon points="256.90,243.10 257.51,244.56 259.09,244.69 257.88,245.72 258.25,247.26 256.90,246.44 255.55,247.26 255.92,245.72 254.71,244.69 256.29,244.56" fill="#000"/>
<polygon points="261.30,243.10 261.91,244.56 263.49,244.69 262.28,245.72 262.65,247.26 261.30,246.44 259.95,247.26 260.32,245.72 259.11,244.69 260.69,244.56" fill="#000"/>
<polygon points="265.70,243.10 266.31,244.56 267.89,244.69 266.68,245.72 267.05,247.26 265.70,246.44 264.35,247.26 264.72,245.72 263.51,244.69 265.09,244.56" fill="#000"/>
<polygon points="270.10,243.10 270.71,244.56 272.29,244.69 271.08,245.72 271.45,247.26 270.10,246.44 268.75,247.26 269.12,245.72 267.91,244.69 269.49,244.56" fill="#000"/>
<line x1="263.50" y1="411.20" x2="263.50" y2="413.70" stroke="#1a1a1a" stroke-width="1.3" />
<text x="263.50" y="425.00" font-size="9.8" font-weight="bold" font-style="normal" text-anchor="middle" fill="#000" textLength="5.00" lengthAdjust="spacingAndGlyphs" >4</text>
<text x="150.40" y="444.80" font-size="10" font-weight="bold" font-style="normal" text-anchor="start" fill="#000" textLength="46.30" lengthAdjust="spacingAndGlyphs" >aTc (μM)</text>
<text transform="translate(25.60,402.60) rotate(-90)" x="0" y="0" font-size="10.8" font-weight="bold" font-style="normal" fill="#000" textLength="38.30" lengthAdjust="spacingAndGlyphs">Relative</text>
<text transform="translate(25.60,362.00) rotate(-90)" x="0" y="0" font-size="10.8" font-weight="bold" font-style="normal" fill="#000" textLength="52.80" lengthAdjust="spacingAndGlyphs">expression</text>
<text transform="translate(25.60,306.40) rotate(-90)" x="0" y="0" font-size="10.8" font-weight="bold" font-style="normal" fill="#000" textLength="10.40" lengthAdjust="spacingAndGlyphs">of</text>
<text transform="translate(25.60,294.60) rotate(-90)" x="0" y="0" font-size="11.2" font-weight="bold" font-style="italic" fill="#000" textLength="22.40" lengthAdjust="spacingAndGlyphs">dcas9</text>
<text transform="translate(25.60,270.40) rotate(-90)" x="0" y="0" font-size="10.8" font-weight="bold" font-style="normal" fill="#000" textLength="25.20" lengthAdjust="spacingAndGlyphs">(fold)</text>
<line x1="363.20" y1="232.00" x2="363.20" y2="411.60" stroke="#1a1a1a" stroke-width="1.3" />
<line x1="362.60" y1="411.00" x2="545.00" y2="411.00" stroke="#1a1a1a" stroke-width="1.3" />
<line x1="360.20" y1="411.00" x2="363.20" y2="411.00" stroke="#1a1a1a" stroke-width="1.3" />
<text x="357.40" y="413.90" font-size="9" font-weight="bold" font-style="normal" text-anchor="end" fill="#000" textLength="14.20" lengthAdjust="spacingAndGlyphs" >0.0</text>
<line x1="360.20" y1="381.22" x2="363.20" y2="381.22" stroke="#1a1a1a" stroke-width="1.3" />
<text x="357.40" y="384.12" font-size="9" font-weight="bold" font-style="normal" text-anchor="end" fill="#000" textLength="14.20" lengthAdjust="spacingAndGlyphs" >0.2</text>
<line x1="360.20" y1="351.44" x2="363.20" y2="351.44" stroke="#1a1a1a" stroke-width="1.3" />
<text x="357.40" y="354.34" font-size="9" font-weight="bold" font-style="normal" text-anchor="end" fill="#000" textLength="14.20" lengthAdjust="spacingAndGlyphs" >0.4</text>
<line x1="360.20" y1="321.66" x2="363.20" y2="321.66" stroke="#1a1a1a" stroke-width="1.3" />
<text x="357.40" y="324.56" font-size="9" font-weight="bold" font-style="normal" text-anchor="end" fill="#000" textLength="14.20" lengthAdjust="spacingAndGlyphs" >0.6</text>
<line x1="360.20" y1="291.88" x2="363.20" y2="291.88" stroke="#1a1a1a" stroke-width="1.3" />
<text x="357.40" y="294.78" font-size="9" font-weight="bold" font-style="normal" text-anchor="end" fill="#000" textLength="14.20" lengthAdjust="spacingAndGlyphs" >0.8</text>
<line x1="360.20" y1="262.10" x2="363.20" y2="262.10" stroke="#1a1a1a" stroke-width="1.3" />
<text x="357.40" y="265.00" font-size="9" font-weight="bold" font-style="normal" text-anchor="end" fill="#000" textLength="14.20" lengthAdjust="spacingAndGlyphs" >1.0</text>
<line x1="360.20" y1="232.32" x2="363.20" y2="232.32" stroke="#1a1a1a" stroke-width="1.3" />
<text x="357.40" y="235.22" font-size="9" font-weight="bold" font-style="normal" text-anchor="end" fill="#000" textLength="14.20" lengthAdjust="spacingAndGlyphs" >1.2</text>
<line x1="385.85" y1="260.91" x2="385.85" y2="262.10" stroke="#111" stroke-width="1.4" />
<line x1="380.35" y1="260.91" x2="391.35" y2="260.91" stroke="#111" stroke-width="1.4" />
<rect x="374.55" y="262.10" width="22.60" height="148.90" fill="#000"/>
<line x1="385.85" y1="411.00" x2="385.85" y2="413.50" stroke="#1a1a1a" stroke-width="1.3" />
<text x="385.85" y="424.90" font-size="9.5" font-weight="bold" font-style="normal" text-anchor="middle" fill="#000" textLength="38.00" lengthAdjust="spacingAndGlyphs" >Control</text>
<line x1="419.85" y1="358.44" x2="419.85" y2="360.97" stroke="#111" stroke-width="1.4" />
<line x1="414.35" y1="358.44" x2="425.35" y2="358.44" stroke="#111" stroke-width="1.4" />
<rect x="409.85" y="362.47" width="20.00" height="48.53" fill="#303030" stroke="#000" stroke-width="3.0"/>
<line x1="419.85" y1="411.00" x2="419.85" y2="413.50" stroke="#1a1a1a" stroke-width="1.3" />
<text x="419.85" y="424.90" font-size="9.5" font-weight="bold" font-style="normal" text-anchor="middle" fill="#000" textLength="11.80" lengthAdjust="spacingAndGlyphs" >B1</text>
<line x1="453.85" y1="261.50" x2="453.85" y2="269.10" stroke="#111" stroke-width="1.4" />
<line x1="448.35" y1="261.50" x2="459.35" y2="261.50" stroke="#111" stroke-width="1.4" />
<rect x="444.15" y="270.60" width="19.40" height="140.40" fill="#646464" stroke="#000" stroke-width="3.0"/>
<line x1="453.85" y1="411.00" x2="453.85" y2="413.50" stroke="#1a1a1a" stroke-width="1.3" />
<text x="453.85" y="424.90" font-size="9.5" font-weight="bold" font-style="normal" text-anchor="middle" fill="#000" textLength="12.20" lengthAdjust="spacingAndGlyphs" >B2</text>
<line x1="487.85" y1="253.31" x2="487.85" y2="265.08" stroke="#111" stroke-width="1.4" />
<line x1="482.35" y1="253.31" x2="493.35" y2="253.31" stroke="#111" stroke-width="1.4" />
<rect x="478.35" y="266.58" width="19.00" height="144.42" fill="#808080" stroke="#000" stroke-width="3.0"/>
<line x1="487.85" y1="411.00" x2="487.85" y2="413.50" stroke="#1a1a1a" stroke-width="1.3" />
<text x="487.85" y="424.90" font-size="9.5" font-weight="bold" font-style="normal" text-anchor="middle" fill="#000" textLength="12.20" lengthAdjust="spacingAndGlyphs" >B3</text>
<line x1="521.85" y1="263.14" x2="521.85" y2="266.42" stroke="#111" stroke-width="1.4" />
<line x1="516.35" y1="263.14" x2="527.35" y2="263.14" stroke="#111" stroke-width="1.4" />
<rect x="512.35" y="267.92" width="19.00" height="143.08" fill="#d2d2d2" stroke="#000" stroke-width="3.0"/>
<line x1="521.85" y1="411.00" x2="521.85" y2="413.50" stroke="#1a1a1a" stroke-width="1.3" />
<text x="521.85" y="424.90" font-size="9.5" font-weight="bold" font-style="normal" text-anchor="middle" fill="#000" textLength="19.60" lengthAdjust="spacingAndGlyphs" >WT</text>
<polyline points="384.5,254.2 384.5,245.5 420.8,245.5 420.8,335.5" fill="none" stroke="#222" stroke-width="1.2"/>
<line x1="384.20" y1="235.00" x2="391.00" y2="235.00" stroke="#000" stroke-width="1.5"/><line x1="385.90" y1="232.06" x2="389.30" y2="237.94" stroke="#000" stroke-width="1.5"/><line x1="389.30" y1="232.06" x2="385.90" y2="237.94" stroke="#000" stroke-width="1.5"/>
<line x1="393.20" y1="235.00" x2="400.00" y2="235.00" stroke="#000" stroke-width="1.5"/><line x1="394.90" y1="232.06" x2="398.30" y2="237.94" stroke="#000" stroke-width="1.5"/><line x1="398.30" y1="232.06" x2="394.90" y2="237.94" stroke="#000" stroke-width="1.5"/>
<line x1="402.20" y1="235.00" x2="409.00" y2="235.00" stroke="#000" stroke-width="1.5"/><line x1="403.90" y1="232.06" x2="407.30" y2="237.94" stroke="#000" stroke-width="1.5"/><line x1="407.30" y1="232.06" x2="403.90" y2="237.94" stroke="#000" stroke-width="1.5"/>
<line x1="411.20" y1="235.00" x2="418.00" y2="235.00" stroke="#000" stroke-width="1.5"/><line x1="412.90" y1="232.06" x2="416.30" y2="237.94" stroke="#000" stroke-width="1.5"/><line x1="416.30" y1="232.06" x2="412.90" y2="237.94" stroke="#000" stroke-width="1.5"/>
<text transform="translate(331.20,402.60) rotate(-90)" x="0" y="0" font-size="10.8" font-weight="bold" font-style="normal" fill="#000" textLength="37.60" lengthAdjust="spacingAndGlyphs">Relative</text>
<text transform="translate(331.20,362.60) rotate(-90)" x="0" y="0" font-size="10.8" font-weight="bold" font-style="normal" fill="#000" textLength="52.80" lengthAdjust="spacingAndGlyphs">expression</text>
<text transform="translate(331.20,307.00) rotate(-90)" x="0" y="0" font-size="10.8" font-weight="bold" font-style="normal" fill="#000" textLength="10.40" lengthAdjust="spacingAndGlyphs">of</text>
<text transform="translate(331.20,295.20) rotate(-90)" x="0" y="0" font-size="11.2" font-weight="bold" font-style="italic" fill="#000" textLength="17.00" lengthAdjust="spacingAndGlyphs">rbsB</text>
<text transform="translate(331.20,276.50) rotate(-90)" x="0" y="0" font-size="10.8" font-weight="normal" font-style="normal" fill="#000" textLength="5.70" lengthAdjust="spacingAndGlyphs">(</text>
<text transform="translate(331.20,270.20) rotate(-90)" x="0" y="0" font-size="10.8" font-weight="bold" font-style="normal" fill="#000" textLength="17.20" lengthAdjust="spacingAndGlyphs">fold</text>
<text transform="translate(331.20,253.00) rotate(-90)" x="0" y="0" font-size="10.8" font-weight="normal" font-style="normal" fill="#000" textLength="4.80" lengthAdjust="spacingAndGlyphs">)</text>
</svg></body></html>
